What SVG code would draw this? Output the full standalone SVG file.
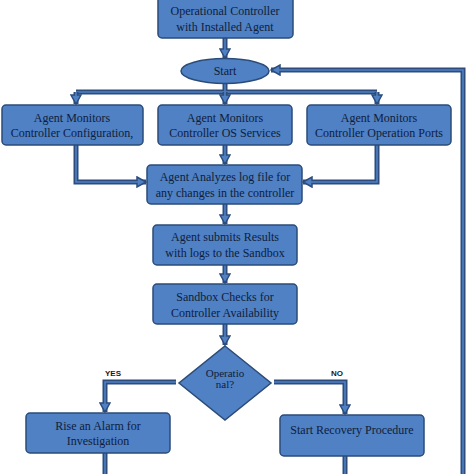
<svg xmlns="http://www.w3.org/2000/svg" width="474" height="474" viewBox="0 0 474 474">
<defs>
<style>
.box{fill:#4f81c4;stroke:#2b4b78;stroke-width:1.5}
.t{font-family:"Liberation Serif","Times New Roman",serif;font-size:12px;fill:#10203c;text-anchor:middle}
.o{fill:none;stroke:#2d4c7c;stroke-width:5}
.i{fill:none;stroke:#4f81c4;stroke-width:1.6}
.lbl{font-family:"Liberation Sans",Arial,sans-serif;font-size:8px;font-weight:bold;fill:#1a1a1a;text-anchor:middle}
</style>
<marker id="ah" markerUnits="userSpaceOnUse" markerWidth="12" markerHeight="12" viewBox="0 0 12 12" refX="11" refY="6" orient="auto">
<path d="M2,1 L11,6 L2,11 Z" fill="#4f81c4" stroke="#2d4c7c" stroke-width="1.5"/>
</marker>
</defs>
<rect width="474" height="474" fill="#ffffff"/>
<g id="connectors">
<path class="o" d="M225,38 V58" marker-end="url(#ah)"/><path class="i" d="M225,38 V54"/>
<path class="o" d="M225,83 V92 M76,92 H377"/><path class="i" d="M225,83 V92 M76,92 H377"/>
<path class="o" d="M76,92 V104" marker-end="url(#ah)"/><path class="i" d="M76,92 V100"/>
<path class="o" d="M225,92 V104" marker-end="url(#ah)"/><path class="i" d="M225,92 V100"/>
<path class="o" d="M377,92 V104" marker-end="url(#ah)"/><path class="i" d="M377,92 V100"/>
<path class="o" d="M76,145 V182 H146" marker-end="url(#ah)"/><path class="i" d="M76,145 V182 H142"/>
<path class="o" d="M377,145 V182 H303" marker-end="url(#ah)"/><path class="i" d="M377,145 V182 H307"/>
<path class="o" d="M225,145 V164" marker-end="url(#ah)"/><path class="i" d="M225,145 V160"/>
<path class="o" d="M225,204 V224" marker-end="url(#ah)"/><path class="i" d="M225,204 V220"/>
<path class="o" d="M225,265 V283" marker-end="url(#ah)"/><path class="i" d="M225,265 V279"/>
<path class="o" d="M225,324 V345" marker-end="url(#ah)"/><path class="i" d="M225,324 V341"/>
<path class="o" d="M176,382 H105 V412" marker-end="url(#ah)"/><path class="i" d="M176,382 H105 V408"/>
<path class="o" d="M274,382 H345 V414" marker-end="url(#ah)"/><path class="i" d="M274,382 H345 V410"/>
<path class="o" d="M105,453 V474"/><path class="i" d="M105,453 V474"/>
<path class="o" d="M345,456 V474"/><path class="i" d="M345,456 V474"/>
<path class="o" d="M463,474 V70 H271" marker-end="url(#ah)"/><path class="i" d="M463,474 V70 H275"/>
</g>
<g id="n-top"><rect class="box" x="158" y="-4" width="135" height="42" rx="4"/>
<text class="t" x="225" y="15">Operational Controller</text><text class="t" x="225" y="31">with Installed Agent</text></g>
<g id="n-start"><ellipse class="box" cx="225" cy="71" rx="44" ry="12.5"/><text class="t" x="225" y="75">Start</text></g>
<g id="n-cfg"><rect class="box" x="2" y="105" width="141" height="40" rx="4"/>
<text class="t" x="72" y="122">Agent Monitors</text><text class="t" x="72" y="137">Controller Configuration,</text></g>
<g id="n-os"><rect class="box" x="158" y="105" width="134" height="40" rx="4"/>
<text class="t" x="225" y="122">Agent Monitors</text><text class="t" x="225" y="137">Controller OS Services</text></g>
<g id="n-ports"><rect class="box" x="307" y="105" width="144" height="40" rx="4"/>
<text class="t" x="379" y="122">Agent Monitors</text><text class="t" x="379" y="137">Controller Operation Ports</text></g>
<g id="n-analyze"><rect class="box" x="147" y="165" width="155" height="39" rx="4"/>
<text class="t" x="225" y="181">Agent Analyzes log file for</text><text class="t" x="225" y="197">any changes in the controller</text></g>
<g id="n-submit"><rect class="box" x="153" y="225" width="144" height="40" rx="4"/>
<text class="t" x="225" y="241">Agent submits Results</text><text class="t" x="225" y="257">with logs to the Sandbox</text></g>
<g id="n-sandbox"><rect class="box" x="153" y="284" width="144" height="40" rx="4"/>
<text class="t" x="225" y="301">Sandbox Checks for</text><text class="t" x="225" y="317">Controller Availability</text></g>
<g id="n-decision"><path class="box" d="M225,346 L271,383 L225,420 L179,383 Z"/>
<text class="t" x="225" y="377" style="font-size:11px">Operatio</text><text class="t" x="225" y="388" style="font-size:11px">nal?</text></g>
<g id="n-alarm"><rect class="box" x="26" y="413" width="144" height="40" rx="4"/>
<text class="t" x="98" y="430">Rise an Alarm for</text><text class="t" x="98" y="445">Investigation</text></g>
<g id="n-recovery"><rect class="box" x="280" y="415" width="144" height="41" rx="4"/>
<text class="t" x="352" y="434">Start Recovery Procedure</text></g>
<text class="lbl" x="113" y="376">YES</text>
<text class="lbl" x="337" y="376">NO</text>
</svg>
